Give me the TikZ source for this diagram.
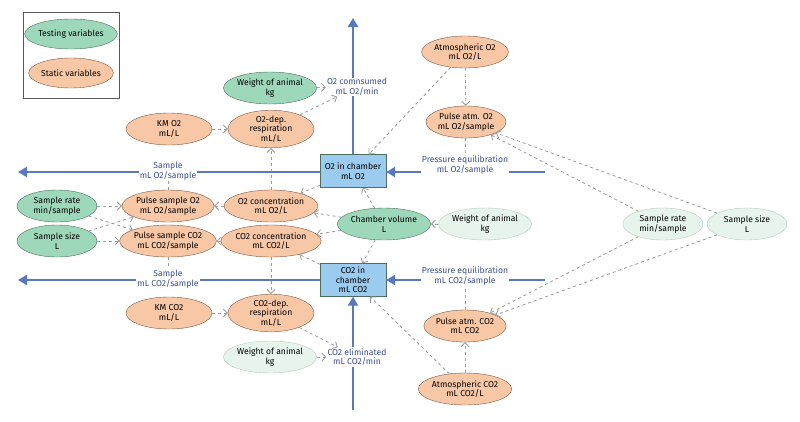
\documentclass[tikz,border=0pt]{standalone}
\usepackage{fontspec}
\setmainfont{Fira Sans}
\usetikzlibrary{arrows.meta,shapes.geometric}
\definecolor{peach}{HTML}{F8C7A6}
\definecolor{peachb}{HTML}{7A5A44}
\definecolor{grn}{HTML}{9ED8BA}
\definecolor{grnb}{HTML}{4E6E5E}
\definecolor{pale}{HTML}{E7F4EC}
\definecolor{paleb}{HTML}{B8CCC0}
\definecolor{boxc}{HTML}{9CCBF0}
\definecolor{flow}{HTML}{5A78BE}
\definecolor{lbl}{HTML}{3A4E8C}
\definecolor{dg}{HTML}{9A9A9A}
\begin{document}
\begin{tikzpicture}[x=1pt,y=-1pt,
  every node/.style={font=\fontsize{8.6}{9.6}\selectfont, align=center},
  st/.style={ellipse, draw=peachb, fill=peach, minimum width=86pt, minimum height=32pt, inner sep=0pt},
  tv/.style={ellipse, draw=grnb, fill=grn, minimum width=84pt, minimum height=32pt, inner sep=0pt},
  pv/.style={ellipse, draw=paleb, fill=pale, minimum width=84pt, minimum height=32pt, inner sep=0pt},
  bx/.style={draw=grnb, fill=boxc, minimum width=66pt, minimum height=33pt, inner sep=1pt},
  fl/.style={text=lbl, fill=white, inner sep=1pt},
  dep/.style={draw=dg, dashed, thick, -{Straight Barb[length=4pt]}},
  dl/.style={draw=dg, dashed, thick},
  flw/.style={draw=flow, line width=2.2pt, -{Triangle[length=9pt,width=10pt]}}]
\useasboundingbox (0,0) rectangle (800,421);
% legend
\node[draw=gray!70!black, thick, minimum width=96pt, minimum height=86pt] (leg) at (71,55) {};
\node[tv, minimum width=78pt, minimum height=30pt] (lt) at (71,34) {Testing variables};
\node[st, minimum width=78pt, minimum height=30pt] (ls) at (71,73) {Static variables};
% flows
\coordinate (top) at (353,18);
\coordinate (bot) at (353,410);
\coordinate (l1) at (18,172);
\coordinate (l2) at (18,280);
\coordinate (r1) at (545,172);
\coordinate (r2) at (545,280);
\node[bx] (o2b) at (353,171) {O2 in chamber\\mL O2};
\node[bx] (co2b) at (353,280) {CO2 in\\chamber\\mL CO2};
\draw[flw] (o2b) -- (top);
\draw[flw] (o2b.west|-l1) -- (l1);
\draw[flw] (bot) -- (co2b);
\draw[flw] (co2b.west|-l2) -- (l2);
\draw[flw] (r1) -- (o2b.east|-r1);
\draw[flw] (r2) -- (co2b.east|-r2);
\node[fl] (o2c) at (357,87) {O2 comnsumed\\mL O2/min};
\node[fl] (co2e) at (357,357) {CO2 eliminated\\mL CO2/min};
\node[fl] (s1) at (168,171) {Sample\\mL O2/sample};
\node[fl] (s2) at (168,279) {Sample\\mL CO2/sample};
\node[fl] (p1) at (465,165) {Pressure equilibration\\mL O2/sample};
\node[fl] (p2) at (465,276) {Pressure equilibration\\mL CO2/sample};
% nodes
\node[tv] (w1) at (270,88) {Weight of animal\\kg};
\node[st] (km1) at (169,129) {KM O2\\mL/L};
\node[st] (r1n) at (271,129) {O2-dep.\\respiration\\mL/L};
\node[st] (ao2) at (465,52) {Atmospheric O2\\mL O2/L};
\node[st, minimum width=80pt] (pa1) at (466,122) {Pulse atm. O2\\mL O2/sample};
\node[tv, minimum width=80pt] (sr) at (57,206) {Sample rate\\min/sample};
\node[tv, minimum width=80pt] (ss) at (57,241) {Sample size\\L};
\node[st, minimum width=92pt] (ps1) at (168,206) {Pulse sample O2\\mL O2/sample};
\node[st, minimum width=92pt] (ps2) at (168,241) {Pulse sample CO2\\mL CO2/sample};
\node[st] (c1) at (271,206) {O2 concentration\\mL O2/L};
\node[st] (c2) at (271,241) {CO2 concentration\\mL CO2/L};
\node[tv] (cv) at (384,224) {Chamber volume\\L};
\node[pv] (w3) at (485,224) {Weight of animal\\kg};
\node[pv, minimum width=80pt] (sr2) at (663,224) {Sample rate\\min/sample};
\node[pv, minimum width=80pt] (ss2) at (747,224) {Sample size\\L};
\node[st] (km2) at (169,313) {KM CO2\\mL/L};
\node[st] (r2n) at (271,313) {CO2-dep.\\respiration\\mL/L};
\node[pv] (w2) at (270,357) {Weight of animal\\kg};
\node[st, minimum width=80pt] (pa2) at (465,326) {Pulse atm. CO2\\mL CO2};
\node[st] (aco2) at (465,389) {Atmospheric CO2\\mL CO2/L};
% dependencies
\draw[dep] (w1) -- (o2c);
\draw[dep] (r1n) -- (o2c);
\draw[dep] (km1) -- (r1n);
\draw[dep] (c1) -- (r1n);
\draw[dep] (o2b) -- (c1);
\draw[dep] (c1) -- (ps1);
\draw[dep] (c2) -- (ps2);
\draw[dep] (sr) -- (ps1);
\draw[dep] (sr) -- (ps2);
\draw[dep] (ss) -- (ps1);
\draw[dep] (ss) -- (ps2);
\draw[dl] (ps1) -- (s1);
\draw[dl] (ps2) -- (s2);
\draw[dep] (cv) -- (c1);
\draw[dep] (cv) -- (c2);
\draw[dep] (cv) -- (o2b);
\draw[dep] (cv) -- (co2b);
\draw[dep] (co2b) -- (c2);
\draw[dep] (c2) -- (r2n);
\draw[dep] (km2) -- (r2n);
\draw[dep] (r2n) -- (co2e);
\draw[dep] (w2) -- (co2e);
\draw[dep] (ao2) -- (o2b);
\draw[dep] (ao2) -- (pa1);
\draw[dl] (pa1) -- (p1);
\draw[dep] (sr2) -- (pa1);
\draw[dep] (ss2) -- (pa1);
\draw[dep] (w3) -- (cv);
\draw[dep] (sr2) -- (pa2);
\draw[dep] (ss2) -- (pa2);
\draw[dep] (aco2) -- (pa2);
\draw[dep] (aco2) -- (co2b);
\draw[dl] (pa2) -- (p2);
\end{tikzpicture}
\end{document}
